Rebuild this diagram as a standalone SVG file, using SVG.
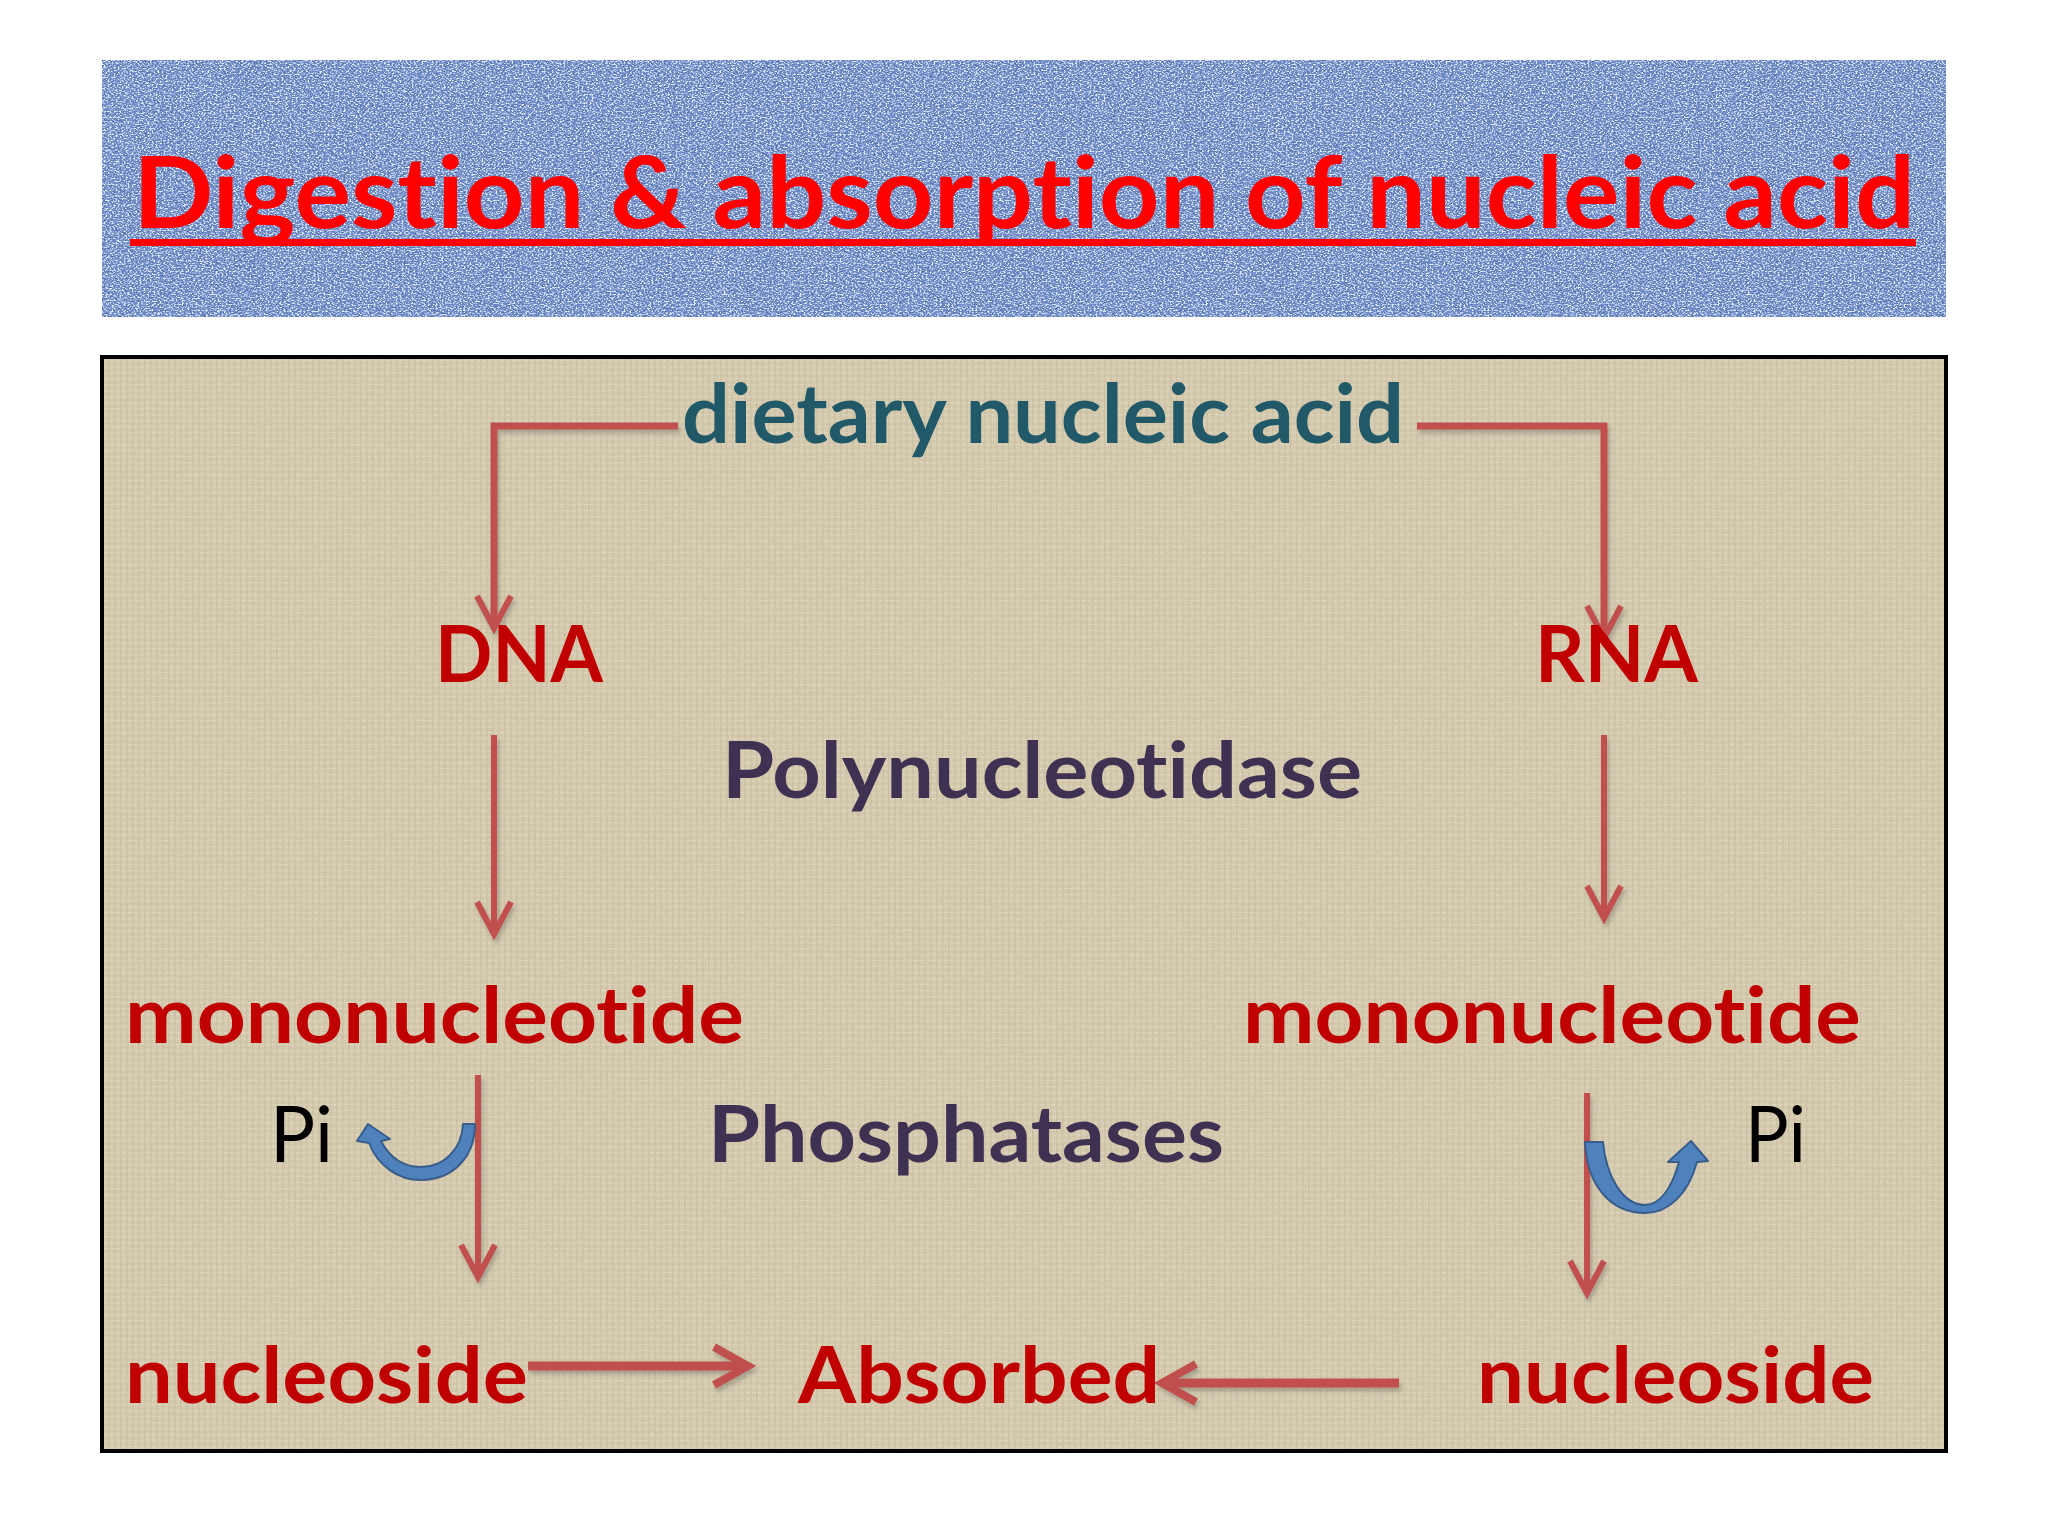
<svg xmlns="http://www.w3.org/2000/svg" width="2048" height="1536" viewBox="0 0 2048 1536">
<defs>
<style>
.lbl{font-family:Lato,"Open Sans","Liberation Sans",sans-serif;font-weight:bold;font-variant-ligatures:none;}
.red{fill:#c00000;font-size:78px;}
.enz{fill:#3f3151;font-size:78px;}
.pi{font-family:Lato,"Open Sans","Liberation Sans",sans-serif;font-weight:normal;fill:#000;font-size:78px;font-variant-ligatures:none;}
.con{fill:none;stroke:#c0504d;stroke-linecap:butt;stroke-linejoin:miter;}
.blue{fill:#4f81bd;stroke:#385d8a;stroke-width:2;stroke-linejoin:round;}
</style>
<filter id="darkSpeck" x="0" y="0" width="1" height="1">
<feTurbulence type="fractalNoise" baseFrequency="0.45 0.8" numOctaves="2" seed="7"/>
<feColorMatrix type="matrix" values="0 0 0 0 0.1  0 0 0 0 0.17  0 0 0 0 0.4  -5 0 0 0 2.75"/>
</filter>
<filter id="lightSpeck" x="0" y="0" width="1" height="1">
<feTurbulence type="fractalNoise" baseFrequency="0.5 0.7" numOctaves="2" seed="21"/>
<feColorMatrix type="matrix" values="0 0 0 0 0.74  0 0 0 0 0.82  0 0 0 0 0.97  5 0 0 0 -2.35"/>
</filter>
<filter id="beigeSpeck" x="0" y="0" width="1" height="1">
<feTurbulence type="fractalNoise" baseFrequency="0.6 0.35" numOctaves="2" seed="4"/>
<feColorMatrix type="matrix" values="0 0 0 0 0.55  0 0 0 0 0.5  0 0 0 0 0.4  -2.2 0 0 0 1.25"/>
</filter>
<pattern id="linen" width="6" height="6" patternUnits="userSpaceOnUse">
<rect width="6" height="6" fill="#d6cbae"/>
<rect y="0" width="6" height="1.5" fill="#e2d9c2" opacity="0.7"/>
<rect x="0" width="1.5" height="6" fill="#c7bb9d" opacity="0.6"/>
</pattern>
<filter id="shadow" x="-5%" y="-5%" width="110%" height="120%">
<feDropShadow dx="2" dy="4" stdDeviation="2" flood-color="#555" flood-opacity="0.35"/>
</filter>
</defs>
<rect width="2048" height="1536" fill="#ffffff"/>

<g id="banner">
<rect x="102" y="60" width="1844" height="257" fill="#6f8ecb"/>
<rect x="102" y="60" width="1844" height="257" filter="url(#darkSpeck)"/>
<rect x="102" y="60" width="1844" height="257" filter="url(#lightSpeck)"/>
<text class="lbl" x="133" y="228" font-size="100" fill="#ff0000" textLength="1782" lengthAdjust="spacingAndGlyphs">Digestion &amp; absorption of nucleic acid</text>
<rect x="130" y="239" width="1786" height="7" fill="#ff0000"/>
</g>

<g id="panel">
<rect x="102" y="357" width="1844" height="1094" fill="url(#linen)"/>
<rect x="102" y="357" width="1844" height="1094" filter="url(#beigeSpeck)" opacity="0.5"/>
<rect x="102" y="357" width="1844" height="1094" fill="none" stroke="#000" stroke-width="4"/>
</g>

<g id="connectors" filter="url(#shadow)">
<path class="con" stroke-width="7" d="M678,426 H494 V626"/>
<path class="con" stroke-width="6" d="M477,596 L494,628 L511,596"/>
<path class="con" stroke-width="7" d="M1417,426 H1604 V636"/>
<path class="con" stroke-width="6" d="M1587,606 L1604,638 L1621,606"/>
<path class="con" stroke-width="6" d="M494,735 V932"/>
<path class="con" stroke-width="6" d="M477,902 L494,934 L511,902"/>
<path class="con" stroke-width="6" d="M1604,735 V916"/>
<path class="con" stroke-width="6" d="M1587,886 L1604,918 L1621,886"/>
<path class="con" stroke-width="6" d="M478,1075 V1275"/>
<path class="con" stroke-width="6" d="M461,1245 L478,1277 L495,1245"/>
<path class="con" stroke-width="6" d="M1587,1093 V1291"/>
<path class="con" stroke-width="6" d="M1570,1261 L1587,1293 L1604,1261"/>
<path class="con" stroke-width="9" d="M528,1366 H744"/>
<path class="con" stroke-width="8" d="M714,1347 L748,1366 L714,1385"/>
<path class="con" stroke-width="9" d="M1399,1383 H1166"/>
<path class="con" stroke-width="8" d="M1196,1364 L1162,1383 L1196,1402"/>
</g>

<g id="pi-arrow-left">
<path class="blue" d="M475,1124 C475,1158 452,1180 421,1180 C398,1180 378,1166 369,1143 L357,1141 L368,1124 L390,1139 L381,1141 C390,1158 404,1167 421,1167 C443,1167 462,1150 463,1124 Z"/>
</g>
<g id="pi-arrow-right">
<path class="blue" d="M1585,1142 L1603,1142 C1606,1175 1622,1205 1645,1205 C1660,1205 1672,1188 1679,1162 L1668,1162 L1691,1141 L1708,1161 L1697,1162 C1688,1195 1668,1213 1645,1213 C1610,1213 1587,1185 1585,1142 Z"/>
</g>

<g id="node-dietary"><text class="lbl" x="682" y="443" font-size="82" fill="#215968" textLength="722" lengthAdjust="spacingAndGlyphs">dietary nucleic acid</text></g>
<g id="node-dna"><text class="lbl red" x="435" y="682" textLength="168" lengthAdjust="spacingAndGlyphs">DNA</text></g>
<g id="node-rna"><text class="lbl red" x="1535" y="682" textLength="163" lengthAdjust="spacingAndGlyphs">RNA</text></g>
<g id="label-polynucleotidase"><text class="lbl enz" x="722" y="798" textLength="640" lengthAdjust="spacingAndGlyphs">Polynucleotidase</text></g>
<g id="node-mono-left"><text class="lbl red" x="125" y="1043" textLength="619" lengthAdjust="spacingAndGlyphs">mononucleotide</text></g>
<g id="node-mono-right"><text class="lbl red" x="1243" y="1043" textLength="618" lengthAdjust="spacingAndGlyphs">mononucleotide</text></g>
<g id="label-pi-left"><text class="pi" x="270" y="1162" textLength="63" lengthAdjust="spacingAndGlyphs">Pi</text></g>
<g id="label-phosphatases"><text class="lbl enz" x="708" y="1162" textLength="516" lengthAdjust="spacingAndGlyphs">Phosphatases</text></g>
<g id="label-pi-right"><text class="pi" x="1745" y="1162" textLength="61" lengthAdjust="spacingAndGlyphs">Pi</text></g>
<g id="node-nucleoside-left"><text class="lbl red" x="125" y="1403" textLength="403" lengthAdjust="spacingAndGlyphs">nucleoside</text></g>
<g id="node-absorbed"><text class="lbl red" x="798" y="1403" textLength="362" lengthAdjust="spacingAndGlyphs">Absorbed</text></g>
<g id="node-nucleoside-right"><text class="lbl red" x="1477" y="1403" textLength="397" lengthAdjust="spacingAndGlyphs">nucleoside</text></g>
</svg>
